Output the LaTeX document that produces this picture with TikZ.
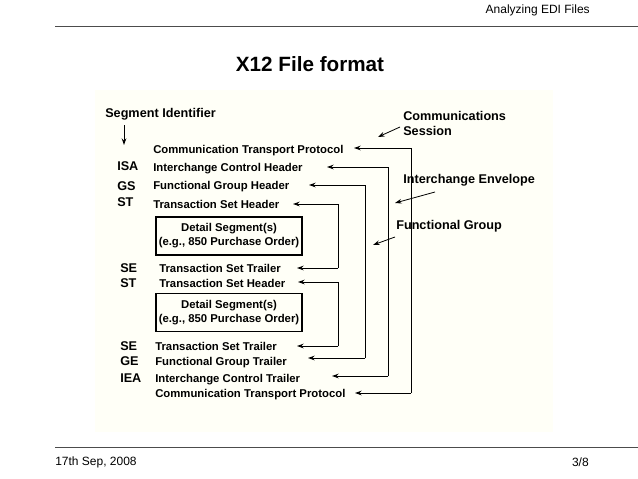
\documentclass[tikz,border=0pt]{standalone}
\usepackage{fontspec}
\setmainfont{Liberation Sans}
\usetikzlibrary{arrows.meta}
\begin{document}
\begin{tikzpicture}[x=0.75pt,y=-0.75pt,
  lbl/.style={font=\bfseries\fontsize{8.5}{10}\selectfont,anchor=base west,inner sep=0},
  big/.style={font=\bfseries\fontsize{9.5}{11.5}\selectfont},
  rule/.style={line width=0.6pt,black!70},
  conn/.style={line width=0.75pt,-{Stealth[length=5pt,width=3.5pt]}},
  dbox/.style={draw,line width=0.8pt,minimum width=146*0.75pt,minimum height=38*0.75pt,align=center,font=\bfseries\fontsize{8.5}{10.5}\selectfont,inner sep=0}]
\useasboundingbox (0,0) rectangle (638,478);
\fill[white] (0,0) rectangle (638,478);
\fill[yellow!3] (95,90) rectangle (553,432);
\coordinate (hl) at (55,26); \coordinate (hr) at (638,26);
\draw[rule] (hl) -- (hr);
\coordinate (fl) at (55,447); \coordinate (fr) at (638,447);
\draw[rule] (fl) -- (fr);
\node[anchor=east,font=\fontsize{9}{10}\selectfont,inner sep=0] (hdr) at (590,10) {Analyzing EDI Files};
\node[anchor=west,font=\fontsize{9}{10}\selectfont,inner sep=0] (date) at (55,462) {17th Sep, 2008};
\node[anchor=east,font=\fontsize{9}{10}\selectfont,inner sep=0] (pg) at (589,462) {3/8};
\node[font=\bfseries\fontsize{15.5}{17}\selectfont] (title) at (310,64) {X12 File format};
% labels
\node[lbl,big] (segid) at (105,117) {Segment Identifier};
\coordinate (sa) at (124,125); \coordinate (sb) at (124,145);
\draw[conn] (sa) -- (sb);
\node[lbl,big,align=left,anchor=north west] (comm) at (403,111) {Communications\\Session};
\node[lbl,big] (ie) at (403,183) {Interchange Envelope};
\node[lbl,big] (fg) at (396,229) {Functional Group};
\coordinate (c1) at (400,127); \coordinate (c2) at (378,137);
\draw[line width=0.6pt,-{Stealth[length=5pt,width=3.5pt]}] (c1) -- (c2);
\coordinate (i1) at (435,192); \coordinate (i2) at (395,203);
\draw[line width=0.6pt,-{Stealth[length=5pt,width=3.5pt]}] (i1) -- (i2);
\coordinate (g1) at (395,237); \coordinate (g2) at (373,245);
\draw[line width=0.6pt,-{Stealth[length=5pt,width=3.5pt]}] (g1) -- (g2);
% left codes
\node[lbl,big] (isa) at (117,170) {ISA};
\node[lbl,big] (gs) at (117,190) {GS};
\node[lbl,big] (st1) at (117,206) {ST};
\node[lbl,big] (se1) at (120,272) {SE};
\node[lbl,big] (st2) at (120,287) {ST};
\node[lbl,big] (se2) at (120,350) {SE};
\node[lbl,big] (ge) at (120,365) {GE};
\node[lbl,big] (iea) at (120,382) {IEA};
% segments
\node[lbl] (ctp1) at (153,153) {Communication Transport Protocol};
\node[lbl] (ich) at (153,171) {Interchange Control Header};
\node[lbl] (fgh) at (153,189) {Functional Group Header};
\node[lbl] (tsh1) at (153,208) {Transaction Set Header};
\node[dbox] (box1) at (229,236) {Detail Segment(s)\\(e.g., 850 Purchase Order)};
\node[lbl] (tst1) at (159,272) {Transaction Set Trailer};
\node[lbl] (tsh2) at (159,287) {Transaction Set Header};
\node[dbox] (box2) at (229,312.5) {Detail Segment(s)\\(e.g., 850 Purchase Order)};
\node[lbl] (tst2) at (155,350) {Transaction Set Trailer};
\node[lbl] (fgt) at (155,365) {Functional Group Trailer};
\node[lbl] (ict) at (155,382) {Interchange Control Trailer};
\node[lbl] (ctp2) at (155,397) {Communication Transport Protocol};
% connectors
\coordinate (x1) at (411,393);
\draw[conn] (x1) -- (411,148) -- (354,148);
\draw[conn] (x1) -- (355,393);
\coordinate (x2) at (388,376);
\draw[conn] (x2) -- (388,167) -- (327,167);
\draw[conn] (x2) -- (332,376);
\coordinate (x3) at (365,358);
\draw[conn] (x3) -- (365,185) -- (309,185);
\draw[conn] (x3) -- (308,358);
\coordinate (x4) at (338,268);
\draw[conn] (x4) -- (338,204) -- (293,204);
\draw[conn] (x4) -- (297,268);
\coordinate (x5) at (338,346);
\draw[conn] (x5) -- (338,282) -- (298,282);
\draw[conn] (x5) -- (297,346);
\end{tikzpicture}
\end{document}
